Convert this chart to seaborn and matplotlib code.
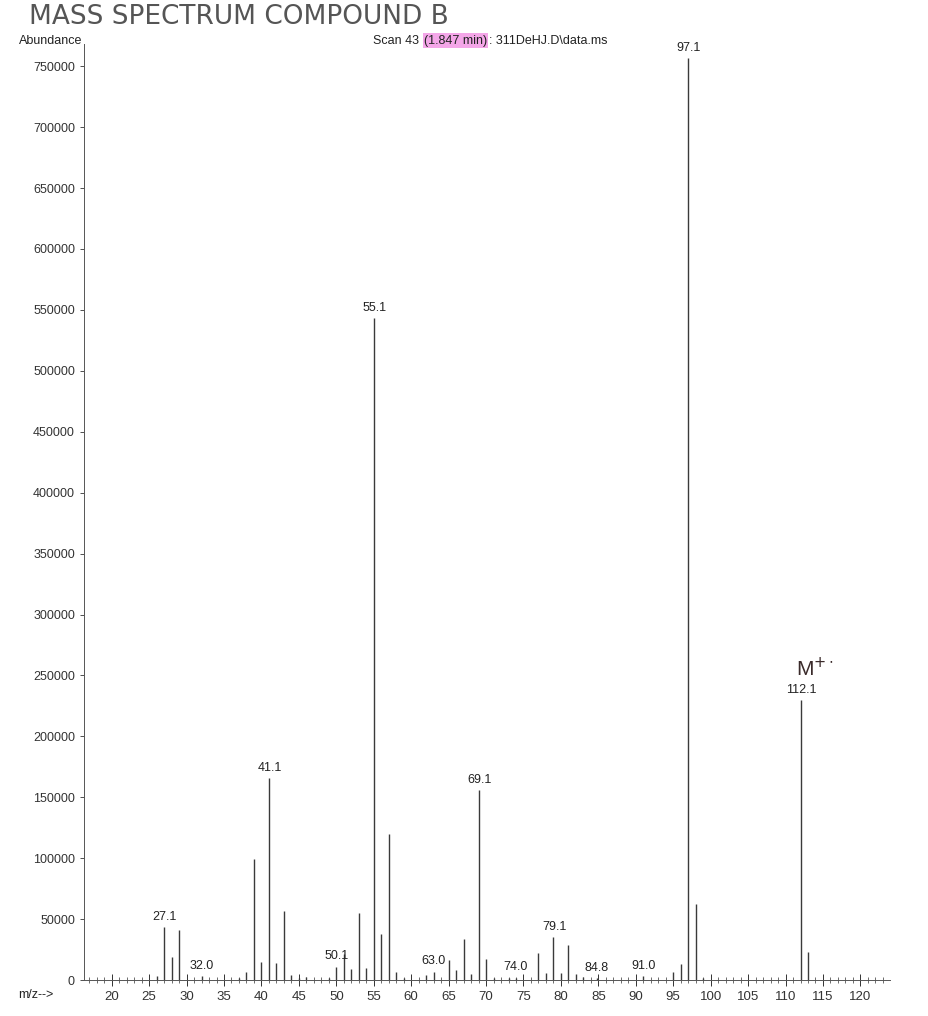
import numpy as np
import seaborn as sns
import matplotlib.pyplot as plt

# peak list (m/z, abundance)
mz = [26, 27, 28, 29, 32, 37, 38, 39, 40, 41, 42, 43, 44, 45, 46, 49,
      50, 51, 52, 53, 54, 55, 56, 57, 58, 59, 62, 63, 65, 66, 67, 68,
      69, 70, 71, 73, 74, 77, 78, 79, 80, 81, 82, 83, 84.8, 91, 95, 96,
      97, 98, 99, 112, 113]
abundance = [3000, 43500, 19000, 41000, 3000, 2000, 6500, 99000, 15000, 166000, 14000, 57000, 4000, 2000, 2500, 1500,
             11000, 21000, 9000, 55000, 10000, 543000, 38000, 120000, 6500, 1500, 4000, 7000, 16500, 8000, 34000, 5000,
             156000, 17000, 1500, 1500, 2000, 22000, 6000, 35000, 6000, 29000, 5000, 2500, 1500, 3500, 7000, 13500,
             757000, 62000, 1500, 230000, 23000]

# labelled peaks
label_mz = [27.1, 32.0, 41.1, 50.1, 55.1, 63.0, 69.1, 74.0, 79.1, 84.8, 91.0, 97.1, 112.1]
label_ab = [43500, 3000, 166000, 11000, 543000, 7000, 156000, 2000, 35000, 1500, 3500, 757000, 230000]

y_ticks = list(range(0, 750001, 50000))
x_ticks = list(range(20, 121, 5))

sns.set_style('ticks')
plt.rcParams['font.family'] = ['Liberation Sans', 'DejaVu Sans']

fig = plt.figure(figsize=(9.29, 10.16), dpi=100)
ax = fig.add_axes([0.0904, 0.0354, 0.868, 0.921])

ax.vlines(mz, 0, abundance, color='#3a3a3a', linewidth=1.0)

for m, a in zip(label_mz, label_ab):
    ax.annotate(f'{m:.1f}', (m, a), xytext=(0, 3), textcoords='offset points',
                ha='center', va='bottom', fontsize=9, color='#222222')

ax.set_xlim(16.3, 124)
ax.set_ylim(0, 768000)
ax.set_yticks(y_ticks)
ax.set_yticklabels([str(v) for v in y_ticks])
ax.set_xticks(x_ticks)
ax.set_xticks(np.arange(17, 124, 1), minor=True)
ax.tick_params(axis='y', direction='out', length=3, labelsize=9, colors='#333333', width=0.6)
ax.tick_params(axis='x', which='major', direction='inout', length=8, labelsize=9.5,
               colors='#333333', width=0.7, pad=4)
ax.tick_params(axis='x', which='minor', direction='inout', length=5, width=0.6, colors='#555555')
sns.despine(ax=ax)
for side in ['left', 'bottom']:
    ax.spines[side].set_color('#555555')
    ax.spines[side].set_linewidth(0.7)

# header texts
fig.text(0.031, 0.983, 'MASS SPECTRUM COMPOUND B', fontsize=19, color='#555555',
         family=['DejaVu Sans'], va='center', ha='left')
fig.text(0.020, 0.960, 'Abundance', fontsize=9, color='#222222', va='center')
t1 = fig.text(0.401, 0.960, 'Scan 43', fontsize=9, color='#222222', va='center')
t2 = fig.text(0, 0, '(1.847 min)', fontsize=9, color='#222222', va='center', ha='left',
              bbox=dict(boxstyle='square,pad=0.1', facecolor='#f4a6e8', edgecolor='none'))
t3 = fig.text(0, 0, ': 311DeHJ.D\\data.ms', fontsize=9, color='#222222', va='center', ha='left')
fig.canvas.draw()
r = fig.canvas.get_renderer()
bb1 = t1.get_window_extent(r).transformed(fig.transFigure.inverted())
t2.set_position((bb1.x1 + 0.006, 0.960))
bb2 = t2.get_window_extent(r).transformed(fig.transFigure.inverted())
t3.set_position((bb2.x1 + 0.002, 0.960))

fig.text(0.020, 0.021, 'm/z-->', fontsize=9, color='#222222', va='center')
fig.text(0.877, 0.342, r'M$^{+\cdot}$', fontsize=15, color='#3a2a2a', ha='center', va='center')

fig.savefig('out.png', dpi=100, facecolor='white')
